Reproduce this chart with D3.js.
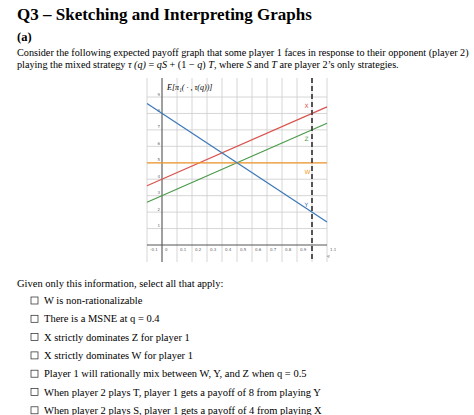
<!DOCTYPE html>
<html><head><meta charset="utf-8">
<script src="https://cdn.jsdelivr.net/npm/d3@7"></script>
<style>
body{margin:0;background:#fff;font-family:"Liberation Serif",serif;color:#111}
</style></head><body>
<script>
const strategies = ["X", "Z", "W", "Y"];
const atQ0 = [4, 3, 5, 8];
const atQ1 = [8, 7, 5, 2];
const colors = ["#d9534f", "#4a9a4a", "#f39a2e", "#3b78b8"];
const labelY = [8.35, 6.3, 4.3, 2.3];
const xTicks = [-0.1, 0, 0.1, 0.2, 0.3, 0.4, 0.5, 0.6, 0.7, 0.8, 0.9, 1, 1.1];
const yTicks = [1, 2, 3, 4, 5, 6, 7, 8, 9];
const options = [
  "W is non-rationalizable",
  "There is a MSNE at q = 0.4",
  "X strictly dominates Z for player 1",
  "X strictly dominates W for player 1",
  "Player 1 will rationally mix between W, Y, and Z when q = 0.5",
  "When player 2 plays T, player 1 gets a payoff of 8 from playing Y",
  "When player 2 plays S, player 1 gets a payoff of 4 from playing X"
];

const svg = d3.select("body").append("svg").attr("width", 474).attr("height", 415);

svg.append("text").attr("x", 17).attr("y", 20).attr("font-size", 17).attr("font-weight", "bold")
  .text("Q3 – Sketching and Interpreting Graphs");
svg.append("text").attr("x", 17).attr("y", 41).attr("font-size", 12.5).attr("font-weight", "bold").text("(a)");
const p1 = svg.append("text").attr("x", 17).attr("y", 56).attr("font-size", 10.2);
p1.text("Consider the following expected payoff graph that some player 1 faces in response to their opponent (player 2)");
const p2 = svg.append("text").attr("x", 17).attr("y", 68).attr("font-size", 10.2);
p2.append("tspan").text("playing the mixed strategy ");
p2.append("tspan").attr("font-style", "italic").text("τ (q)");
p2.append("tspan").text(" = ");
p2.append("tspan").attr("font-style", "italic").text("qS");
p2.append("tspan").text(" + (1 − ");
p2.append("tspan").attr("font-style", "italic").text("q");
p2.append("tspan").text(") ");
p2.append("tspan").attr("font-style", "italic").text("T");
p2.append("tspan").text(", where ");
p2.append("tspan").attr("font-style", "italic").text("S");
p2.append("tspan").text(" and ");
p2.append("tspan").attr("font-style", "italic").text("T");
p2.append("tspan").text(" are player 2’s only strategies.");

// chart
const x = d3.scaleLinear().domain([-0.1, 1.1]).range([147, 327]);
const y = d3.scaleLinear().domain([0, 9]).range([245, 97]);
const plotTop = 78, plotBottom = 262;
const g = svg.append("g");

g.selectAll(".vg").data(xTicks).enter().append("line")
  .attr("x1", d => x(d)).attr("x2", d => x(d)).attr("y1", plotTop).attr("y2", plotBottom)
  .attr("stroke", "#ccc").attr("stroke-width", 0.8);
g.selectAll(".hg").data(yTicks).enter().append("line")
  .attr("x1", x(-0.1)).attr("x2", x(1.1)).attr("y1", d => y(d)).attr("y2", d => y(d))
  .attr("stroke", "#ccc").attr("stroke-width", 0.8);
g.append("line").attr("x1", x(-0.1)).attr("x2", x(1.1)).attr("y1", y(0)).attr("y2", y(0)).attr("stroke", "#555");
g.append("line").attr("x1", x(0)).attr("x2", x(0)).attr("y1", plotTop).attr("y2", plotBottom).attr("stroke", "#555");

g.selectAll(".xl").data(xTicks.filter(d => d !== 1)).enter().append("text")
  .attr("x", d => x(d) + 3).attr("y", y(0) + 6).attr("font-size", 4).attr("fill", "#666")
  .attr("font-family", "DejaVu Sans").text(d => d);
g.selectAll(".yl").data(yTicks).enter().append("text")
  .attr("x", x(0) - 2).attr("y", d => y(d) - 1.5).attr("text-anchor", "end").attr("font-size", 4)
  .attr("fill", "#666").attr("font-family", "DejaVu Sans").text(d => d);
g.append("text").attr("x", x(1.1)).attr("y", y(0) + 12).attr("font-size", 5).attr("font-style", "italic")
  .attr("fill", "#666").text("q");
g.append("text").attr("x", x(0) + 5).attr("y", 90).attr("font-size", 8).attr("font-style", "italic")
  .text("E[π₁( · , τ(q))]");

const lines = strategies.map((s, i) => ({ s, a: atQ0[i], b: atQ1[i], c: colors[i], ly: labelY[i] }));
g.selectAll(".ln").data(lines).enter().append("line")
  .attr("x1", x(-0.1)).attr("x2", x(1.1))
  .attr("y1", d => y(d.a - 0.1 * (d.b - d.a))).attr("y2", d => y(d.b + 0.1 * (d.b - d.a)))
  .attr("stroke", d => d.c).attr("stroke-width", 1.2);
g.selectAll(".lb").data(lines).enter().append("text")
  .attr("x", x(0.95)).attr("y", d => y(d.ly)).attr("font-size", 6).attr("fill", d => d.c)
  .attr("font-family", "DejaVu Sans").text(d => d.s);
g.append("line").attr("x1", x(1)).attr("x2", x(1)).attr("y1", plotTop).attr("y2", plotBottom)
  .attr("stroke", "#444").attr("stroke-width", 1.8).attr("stroke-dasharray", "5,3");

svg.append("text").attr("x", 17).attr("y", 287).attr("font-size", 10.5)
  .text("Given only this information, select all that apply:");
options.forEach((t, i) => {
  const yy = 304 + i * 18.3;
  svg.append("rect").attr("x", 31).attr("y", yy - 7).attr("width", 7).attr("height", 7)
    .attr("fill", "none").attr("stroke", "#222").attr("stroke-width", 0.7);
  svg.append("text").attr("x", 44).attr("y", yy).attr("font-size", 10.5).text(t);
});
</script>
</body></html>
